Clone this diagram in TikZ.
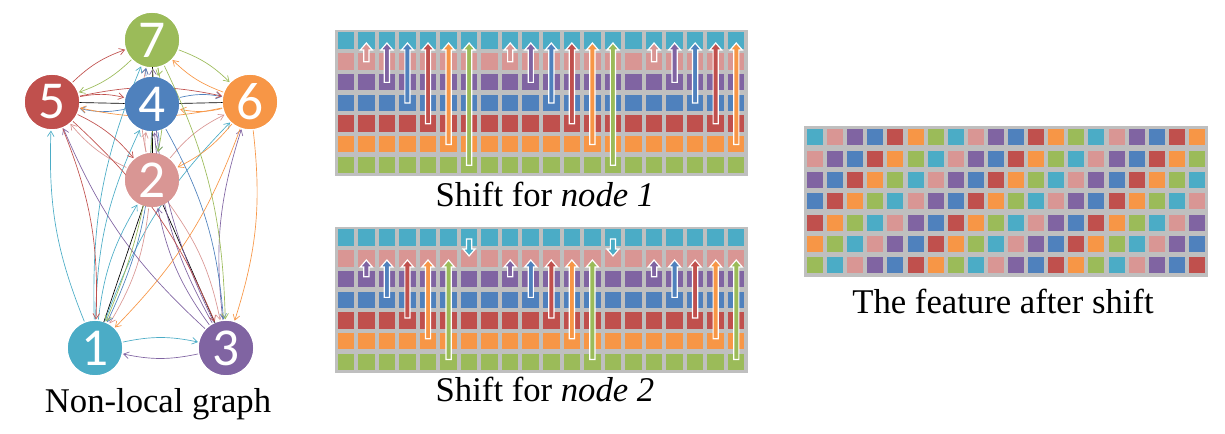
\documentclass[tikz,border=0pt]{standalone}
\usepackage{fontspec}
\setmainfont{Liberation Serif}
\newfontfamily\nodefont{Carlito}
\usetikzlibrary{arrows.meta}
\definecolor{c0}{HTML}{4BACC6}
\definecolor{c1}{HTML}{D99694}
\definecolor{c2}{HTML}{8064A2}
\definecolor{c3}{HTML}{4F81BD}
\definecolor{c4}{HTML}{C0504D}
\definecolor{c5}{HTML}{F79646}
\definecolor{c6}{HTML}{9BBB59}
\definecolor{gridbg}{HTML}{BFBFBF}
% color, x, ytip, len (signed), sign
\newcommand\barr[5]{\fill[#1,draw=white,line width=0.9pt] (#2-2.6,#3+#4)--(#2-2.6,#3+#5*7)--(#2-6,#3+#5*7)--(#2,#3)--(#2+6,#3+#5*7)--(#2+2.6,#3+#5*7)--(#2+2.6,#3+#4)--cycle;}
\begin{document}
\begin{tikzpicture}[x=0.75pt,y=-0.75pt,
  gnode/.style={circle,minimum size=40.5pt,inner sep=0pt,text=white,font=\nodefont\fontsize{40}{40}\selectfont},
  caption/.style={font=\fontsize{26}{28}\selectfont},
  edge/.style={line width=0.5pt,-{Straight Barb[length=4pt,width=5pt]},shorten >=1pt,shorten <=1pt,bend left=12}]
\useasboundingbox (0,0) rectangle (1225,434);
% graph
\node[gnode,fill=c6] (n7) at (152,40) {7};
\node[gnode,fill=c4] (n5) at (52,102) {5};
\node[gnode,fill=c3] (n4) at (152,104) {4};
\node[gnode,fill=c5] (n6) at (250,102) {6};
\node[gnode,fill=c1] (n2) at (152,180) {2};
\node[gnode,fill=c0] (n1) at (95,348) {1};
\node[gnode,fill=c2] (n3) at (226,348) {3};
\foreach \a/\b in {5/4,4/6,7/4,4/2,2/1,2/3}
  \draw[black,line width=0.5pt] (n\a) -- (n\b);
\foreach \i in {1,...,7}{
  \foreach \j in {1,...,7}{
    \ifnum\i=\j\else
      \pgfmathtruncatemacro\ci{\i-1}
      \draw[edge,c\ci] (n\i) to (n\j);
    \fi}}
% redraw nodes on top
\node[gnode,fill=c6] at (n7) {7};
\node[gnode,fill=c4] at (n5) {5};
\node[gnode,fill=c3] at (n4) {4};
\node[gnode,fill=c5] at (n6) {6};
\node[gnode,fill=c1] at (n2) {2};
\node[gnode,fill=c0] at (n1) {1};
\node[gnode,fill=c2] at (n3) {3};
\node[caption] (capg) at (158,404) {Non-local graph};
% grid 1
\fill[gridbg] (335,30) rectangle (748,176);
\foreach \r in {0,...,6}\foreach \c in {0,...,19}
  \fill[c\r] (337.5+20.55*\c,32.5+20.7*\r) rectangle ++(16.5,16.5);
\foreach \b in {0,1,2}\foreach \k in {1,...,6}{
  \pgfmathtruncatemacro\col{7*\b+\k}
  \ifnum\col<20
    \barr{c\k}{345.8+20.55*\col}{43}{20.7*\k-2}{1}
  \fi}
\node[caption] (cap1) at (545,194) {Shift for \textit{node 1}};
% grid 2
\fill[gridbg] (335,227) rectangle (748,373);
\foreach \r in {0,...,6}\foreach \c in {0,...,19}
  \fill[c\r] (337.5+20.55*\c,229.5+20.7*\r) rectangle ++(16.5,16.5);
\foreach \b in {0,1,2}\foreach \j in {1,...,5}{
  \pgfmathtruncatemacro\col{7*\b+\j}
  \pgfmathtruncatemacro\k{\j+1}
  \barr{c\k}{345.8+20.55*\col}{260}{20.7*\j-4}{1}}
\foreach \b in {0,1}{
  \pgfmathtruncatemacro\col{7*\b+6}
  \barr{c0}{345.8+20.55*\col}{256}{-17}{-1}}
\node[caption] (cap2) at (545,389) {Shift for \textit{node 2}};
% feature after shift
\fill[gridbg] (804,126) rectangle (1208,277);
\foreach \r in {0,...,6}\foreach \c in {0,...,19}{
  \pgfmathtruncatemacro\k{mod(\r+\c,7)}
  \fill[c\k] (807+20.1*\c,129.5+21.3*\r) rectangle ++(16,16);}
\node[caption] (cap3) at (1003,301) {The feature after shift};
\end{tikzpicture}
\end{document}
